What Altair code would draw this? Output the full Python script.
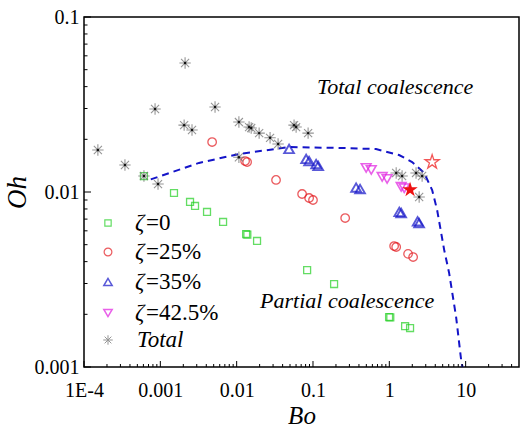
import altair as alt
import pandas as pd

# ---------------- data ----------------
z0_bo = [6.1e-4, 1.51e-3, 2.45e-3, 2.85e-3, 4.09e-3, 6.64e-3, 0.0133, 0.0138, 0.0185, 0.0838, 0.189, 0.993, 1.03, 1.61, 1.87]
z0_oh = [0.01234, 0.00987, 0.00877, 0.00832, 0.00769, 0.00674, 0.00575, 0.0057, 0.00525, 0.00358, 0.00298, 0.00193, 0.00192, 0.00171, 0.00167]

z25_bo = [4.77e-3, 0.0129, 0.0137, 0.0328, 0.072, 0.089, 0.1, 0.264, 1.156, 1.23, 1.76, 2.05]
z25_oh = [0.0193, 0.01503, 0.01483, 0.01172, 0.00974, 0.00924, 0.009, 0.0071, 0.00491, 0.00485, 0.00443, 0.00425]

z35_bo = [0.0486, 0.0813, 0.089, 0.11, 0.117, 0.367, 0.414, 1.35, 1.43, 2.35, 2.46]
z35_oh = [0.01762, 0.01545, 0.01503, 0.01445, 0.0141, 0.0106, 0.0104, 0.0077, 0.00759, 0.0068, 0.00665]

z42_bo = [0.497, 0.58, 0.806, 0.935, 1.43, 1.57]
z42_oh = [0.01372, 0.01336, 0.0122, 0.01187, 0.0107, 0.0105]

tot_bo = [1.52e-4, 3.44e-4, 6.1e-4, 8.53e-4, 9.33e-4, 2.11e-3, 2.05e-3, 2.6e-3, 5.21e-3, 0.0107, 0.0107,
          0.01455, 0.0155, 0.0197, 0.0274, 0.0349, 0.0565, 0.0601, 0.0863, 1.23, 1.47, 2.24, 2.69, 2.46]
tot_oh = [0.01738, 0.01427, 0.01234, 0.0298, 0.0111, 0.0546, 0.0241, 0.0226, 0.0306, 0.0251, 0.0158,
          0.0235, 0.0232, 0.0217, 0.0204, 0.0188, 0.0241, 0.0235, 0.0217, 0.01285, 0.01234, 0.01285, 0.01234, 0.00936]

star_filled_bo = [1.87]
star_filled_oh = [0.0103]
star_open_bo = [3.64]
star_open_oh = [0.01483]

bound_bo = [7.5e-4, 3.21e-3, 0.0107, 0.0486, 0.24, 0.67, 1.34, 1.99, 2.86, 3.64, 4.23, 5.23, 6.08, 7.5, 8.73, 9.1]
bound_oh = [0.0118, 0.01466, 0.01648, 0.01807, 0.01784, 0.0176, 0.01627, 0.01483, 0.01285, 0.01026, 0.00789, 0.00467, 0.00344, 0.00193, 0.001096, 0.001]

x_major = [1e-4, 1e-3, 1e-2, 1e-1, 1, 10]
x_tick_labels = ["1E-4", "0.001", "0.01", "0.1", "1", "10"]
y_major = [0.001, 0.01, 0.1]
y_tick_labels = ["0.001", "0.01", "0.1"]

annot_text = ["Total coalescence", "Partial coalescence"]
annot_bo = [1.19, 0.28]
annot_oh = [0.040, 0.00238]

legend_names = ["=0", "=25%", "=35%", "=42.5%", "Total"]

# ---------------- layout constants ----------------
W, H = 435, 350
FONT = "Liberation Serif"
XDOM = [1e-4, 50]
YDOM = [0.001, 0.1]

xs = alt.Scale(type="log", domain=XDOM, nice=False)
ys = alt.Scale(type="log", domain=YDOM, nice=False)

ASTER = "M-1,0L1,0M0,-1L0,1M-0.71,-0.71L0.71,0.71M-0.71,0.71L0.71,-0.71"
STAR = ("M0,-1L0.2245,-0.309L0.951,-0.309L0.363,0.118L0.588,0.809L0,0.382"
        "L-0.588,0.809L-0.363,0.118L-0.951,-0.309L-0.2245,-0.309Z")

GREEN = "#22d022"
RED = "#e3161b"
BLUE = "#1414c8"
MAG = "#e01ee0"
GRAY = "#6a6a6a"


def df(bo, oh):
    return pd.DataFrame({"bo": bo, "oh": oh})


def xenc(axis=None):
    if axis is None:
        return alt.X("bo:Q", scale=xs)
    return alt.X("bo:Q", scale=xs, axis=axis)


def yenc(axis=None):
    if axis is None:
        return alt.Y("oh:Q", scale=ys)
    return alt.Y("oh:Q", scale=ys, axis=axis)


def label_expr(values, labels):
    parts = "".join(f"abs(datum.value - {v!r}) < {v * 1e-3!r} ? '{l}' : " for v, l in zip(values, labels))
    return parts + "''"


x_axis = alt.Axis(values=x_major, labelExpr=label_expr(x_major, x_tick_labels),
                  ticks=False, domain=False, grid=False,
                  labelFont=FONT, labelFontSize=20, labelColor="black", labelPadding=13,
                  labelFlush=False, labelOverlap=False,
                  title="Bo", titleFont=FONT, titleFontSize=25, titleFontStyle="italic",
                  titleFontWeight="normal", titleColor="black", titlePadding=3)
y_axis = alt.Axis(values=y_major, labelExpr=label_expr(y_major, y_tick_labels),
                  ticks=False, domain=False, grid=False,
                  labelFont=FONT, labelFontSize=20, labelColor="black", labelPadding=5,
                  labelFlush=False, labelOverlap=False,
                  title="Oh", titleFont=FONT, titleFontSize=27, titleFontStyle="italic",
                  titleFontWeight="normal", titleColor="black", titlePadding=3)

# boundary (dashed)
bound = alt.Chart(df(bound_bo, bound_oh).assign(i=range(len(bound_bo)))).mark_line(
    color=BLUE, strokeDash=[7, 5], strokeWidth=2
).encode(x=xenc(x_axis), y=yenc(y_axis), order="i:Q")

pts_z0 = alt.Chart(df(z0_bo, z0_oh)).mark_point(shape="square", size=48, filled=False,
                                                 color=GREEN, strokeWidth=1.3).encode(x=xenc(), y=yenc())
pts_z25 = alt.Chart(df(z25_bo, z25_oh)).mark_point(shape="circle", size=72, filled=False,
                                                   color=RED, strokeWidth=1.3).encode(x=xenc(), y=yenc())
pts_z35 = alt.Chart(df(z35_bo, z35_oh)).mark_point(shape="triangle-up", size=95, filled=False,
                                                   color=BLUE, strokeWidth=1.9).encode(x=xenc(), y=yenc())
pts_z42 = alt.Chart(df(z42_bo, z42_oh)).mark_point(shape="triangle-down", size=95, filled=False,
                                                   color=MAG, strokeWidth=1.6).encode(x=xenc(), y=yenc())
pts_tot = alt.Chart(df(tot_bo, tot_oh)).mark_point(shape=ASTER, size=130, filled=False,
                                                   color=GRAY, strokeWidth=1.1).encode(x=xenc(), y=yenc())
pts_tot_c = alt.Chart(df(tot_bo, tot_oh)).mark_point(shape="circle", size=6, filled=True,
                                                     color="#111111", opacity=1).encode(x=xenc(), y=yenc())
star_f = alt.Chart(df(star_filled_bo, star_filled_oh)).mark_point(shape=STAR, size=260, filled=True,
                                                                  color="#ee1111", opacity=1).encode(x=xenc(), y=yenc())
star_o = alt.Chart(df(star_open_bo, star_open_oh)).mark_point(shape=STAR, size=220, filled=False,
                                                              color="#ee1111", strokeWidth=1.3).encode(x=xenc(), y=yenc())

annot = alt.Chart(pd.DataFrame({"bo": annot_bo, "oh": annot_oh, "t": annot_text})).mark_text(
    font=FONT, fontSize=22, fontStyle="italic", color="black", align="center", baseline="middle"
).encode(x=xenc(), y=yenc(), text="t:N")

# inward ticks
x_minor = [m * 10.0 ** k for k in range(-4, 2) for m in range(2, 10) if m * 10.0 ** k < XDOM[1]]
y_minor = [m * 10.0 ** k for k in range(-3, -1) for m in range(2, 10)]

xt_major = alt.Chart(pd.DataFrame({"bo": x_major})).mark_rule(color="black", strokeWidth=1).encode(
    x=xenc(), y=alt.value(H), y2=alt.value(H - 6))
xt_minor = alt.Chart(pd.DataFrame({"bo": x_minor})).mark_rule(color="black", strokeWidth=1).encode(
    x=xenc(), y=alt.value(H), y2=alt.value(H - 3))
yt_major = alt.Chart(pd.DataFrame({"oh": y_major})).mark_rule(color="black", strokeWidth=1).encode(
    y=yenc(), x=alt.value(0), x2=alt.value(7))
yt_minor = alt.Chart(pd.DataFrame({"oh": y_minor})).mark_rule(color="black", strokeWidth=1).encode(
    y=yenc(), x=alt.value(0), x2=alt.value(3.5))

# manual legend
one = pd.DataFrame({"a": [0]})
leg_rows_y = [206, 235, 265, 296, 323]
leg_shapes = [("square", 40, GREEN, 1.2), ("circle", 60, RED, 1.2), ("triangle-up", 70, BLUE, 1.5),
              ("triangle-down", 70, MAG, 1.5), (ASTER, 90, GRAY, 1.0)]
legend_layers = []
for (shape, size, col, sw), ry, name in zip(leg_shapes, leg_rows_y, legend_names):
    legend_layers.append(alt.Chart(one).mark_point(shape=shape, size=size, filled=False, color=col,
                                                   strokeWidth=sw).encode(x=alt.value(24), y=alt.value(ry)))
    if name == "Total":
        legend_layers.append(alt.Chart(one).mark_text(text=name, font=FONT, fontSize=23, fontStyle="italic",
                                                      align="left", baseline="middle", color="black")
                             .encode(x=alt.value(53), y=alt.value(ry)))
    else:
        legend_layers.append(alt.Chart(one).mark_text(text="ζ", font=FONT, fontSize=23, fontStyle="italic",
                                                      align="left", baseline="middle", color="black")
                             .encode(x=alt.value(51), y=alt.value(ry)))
        legend_layers.append(alt.Chart(one).mark_text(text=name, font=FONT, fontSize=23,
                                                      align="left", baseline="middle", color="black")
                             .encode(x=alt.value(62), y=alt.value(ry)))

chart = alt.layer(
    bound, pts_z0, pts_z25, pts_z35, pts_z42, pts_tot, pts_tot_c, star_f, star_o, annot,
    xt_major, xt_minor, yt_major, yt_minor, *legend_layers
).properties(
    width=W, height=H,
    background="white",
    autosize=alt.AutoSizeParams(type="none"),
    padding={"left": 84, "top": 17, "right": 1, "bottom": 65},
).configure_view(stroke="black", strokeWidth=1.5)

chart.save("out.html", embed_options={"renderer": "svg", "actions": False})
